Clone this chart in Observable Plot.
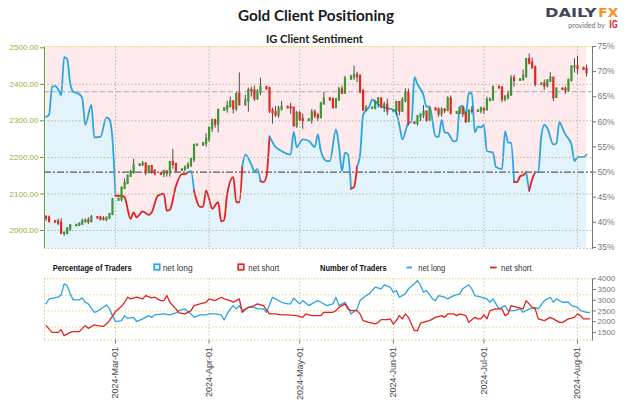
<!DOCTYPE html>
<html><head><meta charset="utf-8">
<script src="https://cdn.jsdelivr.net/npm/d3@7"></script>
<script src="https://cdn.jsdelivr.net/npm/@observablehq/plot@0.6"></script>
<style>
body{margin:0;background:#fff;}
#root{position:relative;width:640px;height:402px;overflow:hidden;background:#fff}
#root svg{position:absolute;left:0}
.price [aria-label="y-axis tick label"]{fill:#93b13c}
.count [aria-label="x-axis tick label"]{fill:#444}
</style></head><body><div id="root"></div>
<script>
// ---------- data ----------
const title = "Gold Client Positioning";
const subtitle = "IG Client Sentiment";
const legendLabels = ["Percentage of Traders", "net long", "net short", "Number of Traders", "net long", "net short"];

const priceTicks = [2000, 2100, 2200, 2300, 2400, 2500];
const pctTicks = [35, 40, 45, 50, 55, 60, 65, 70, 75];
const countTicks = [1500, 2000, 2500, 3000, 3500, 4000];
const monthTicks = ["2024-03-01", "2024-04-01", "2024-05-01", "2024-06-01", "2024-07-01", "2024-08-01"];

// % of clients net long (right axis), [month-day, value]
const sentiment = [["02-07",61.0],["02-08",61.4],["02-09",67.0],["02-10",67.1],["02-11",66.5],["02-12",65.3],["02-13",72.9],["02-14",72.5],["02-15",67.7],["02-16",66.0],["02-18",65.5],["02-19",64.7],["02-20",59.4],["02-22",63.4],["02-23",56.9],["02-25",57.0],["02-27",60.9],["02-28",60.5],["02-29",56.5],["03-01",45.3],["03-03",45.3],["03-04",45.0],["03-06",40.7],["03-07",42.0],["03-08",41.0],["03-10",42.2],["03-12",41.5],["03-13",42.0],["03-15",45.3],["03-17",45.7],["03-18",42.3],["03-19",42.5],["03-21",47.2],["03-23",49.6],["03-24",49.6],["03-25",50.0],["03-26",50.2],["03-27",46.3],["03-29",43.1],["03-30",43.1],["03-31",46.3],["04-01",44.7],["04-02",42.7],["04-04",44.0],["04-05",40.2],["04-06",40.5],["04-07",45.7],["04-09",49.0],["04-10",44.0],["04-11",44.0],["04-12",51.2],["04-13",53.5],["04-15",51.5],["04-16",50.2],["04-17",50.6],["04-18",48.2],["04-19",48.0],["04-20",49.2],["04-21",57.1],["04-23",55.0],["04-25",54.2],["04-28",53.5],["04-29",58.0],["04-30",55.0],["05-02",56.5],["05-04",56.2],["05-06",55.0],["05-07",57.5],["05-08",54.2],["05-10",52.2],["05-11",52.2],["05-13",58.5],["05-14",55.2],["05-15",50.2],["05-16",53.9],["05-17",53.5],["05-18",46.7],["05-19",47.0],["05-20",51.2],["05-21",53.5],["05-22",61.4],["05-24",63.0],["05-25",64.4],["05-28",63.0],["05-30",62.7],["06-01",62.4],["06-02",61.8],["06-03",59.4],["06-04",56.5],["06-06",59.8],["06-07",60.0],["06-08",68.9],["06-09",67.5],["06-11",65.3],["06-12",63.0],["06-13",63.1],["06-15",57.1],["06-16",57.0],["06-17",60.4],["06-18",57.9],["06-19",57.8],["06-21",56.1],["06-22",56.3],["06-23",63.0],["06-24",63.2],["06-25",61.4],["06-26",65.7],["06-27",65.7],["06-28",57.9],["06-29",59.1],["06-30",58.9],["07-01",59.4],["07-02",54.2],["07-04",53.9],["07-05",51.0],["07-07",50.6],["07-08",58.1],["07-09",55.9],["07-10",55.8],["07-11",48.0],["07-12",48.0],["07-13",49.2],["07-14",49.4],["07-15",50.0],["07-16",46.3],["07-17",48.6],["07-18",50.0],["07-19",50.0],["07-20",57.1],["07-21",59.4],["07-22",58.8],["07-24",55.5],["07-25",55.7],["07-26",60.0],["07-27",58.8],["07-28",57.5],["07-30",55.5],["07-31",52.2],["08-01",53.0],["08-03",53.0],["08-04",53.5]];

// number of traders net long
const longCount = [["02-07",2830],["02-08",3064],["02-11",3140],["02-12",3250],["02-13",3766],["02-14",3686],["02-15",3298],["02-16",3017],["02-18",3017],["02-19",3110],["02-20",2905],["02-21",2830],["02-23",2437],["02-24",2484],["02-26",2670],["02-27",2783],["02-28",2596],["02-29",2282],["03-01",2002],["03-03",2048],["03-04",2282],["03-05",2156],["03-07",2205],["03-08",2002],["03-10",2128],["03-12",2282],["03-13",2203],["03-14",2315],["03-17",2362],["03-19",2315],["03-21",2409],["03-22",2516],["03-24",2596],["03-26",2362],["03-27",2203],["03-29",2315],["03-31",2315],["04-01",2362],["04-03",2362],["04-05",2315],["04-06",2081],["04-07",2362],["04-08",2596],["04-09",2750],["04-10",2596],["04-11",2750],["04-12",2516],["04-14",2670],["04-16",2670],["04-17",2596],["04-19",2596],["04-20",2437],["04-22",3140],["04-23",3064],["04-25",2905],["04-27",2830],["04-28",2830],["04-29",3092],["05-01",2830],["05-02",2984],["05-04",2750],["05-05",2830],["05-07",2984],["05-08",2905],["05-10",2750],["05-12",2830],["05-13",3140],["05-14",2750],["05-16",2905],["05-17",2670],["05-18",2362],["05-20",2596],["05-21",2984],["05-23",3218],["05-24",3298],["05-26",3607],["05-28",3532],["05-29",3719],["05-31",3607],["06-01",3373],["06-02",3452],["06-03",3140],["06-05",3298],["06-06",3532],["06-08",3766],["06-09",3920],["06-10",3700],["06-11",3373],["06-12",3452],["06-14",3060],["06-15",2984],["06-16",3218],["06-18",3140],["06-19",3064],["06-21",3218],["06-23",3298],["06-24",3532],["06-26",3719],["06-27",3532],["06-28",3218],["06-30",3140],["07-02",3064],["07-03",2905],["07-04",3064],["07-06",2596],["07-08",2750],["07-09",2516],["07-11",2516],["07-13",2596],["07-14",2437],["07-16",2596],["07-18",2670],["07-19",2596],["07-21",2984],["07-23",3140],["07-24",2905],["07-25",3064],["07-27",2905],["07-29",2905],["07-30",2750],["08-01",2670],["08-02",2516],["08-04",2437],["08-05",2437]];

// number of traders net short
const shortCount = [["02-07",1814],["02-09",1501],["02-11",1501],["02-12",1627],["02-13",1346],["02-15",1501],["02-16",1534],["02-18",1534],["02-20",1814],["02-21",1690],["02-23",1847],["02-24",1814],["02-26",1782],["02-27",1893],["02-28",2048],["03-01",2470],["03-02",2596],["03-03",2718],["03-04",2905],["03-05",3140],["03-06",3064],["03-08",3140],["03-10",3064],["03-11",3218],["03-13",3110],["03-14",3140],["03-16",2984],["03-17",2984],["03-18",3218],["03-19",2905],["03-21",2596],["03-22",2409],["03-24",2362],["03-26",2516],["03-27",2750],["03-29",2830],["03-31",2905],["04-01",3064],["04-03",2984],["04-05",3140],["04-06",3064],["04-08",2984],["04-09",2905],["04-10",2984],["04-11",3064],["04-12",2437],["04-14",2670],["04-16",2750],["04-17",2830],["04-19",2750],["04-21",2362],["04-23",2362],["04-25",2315],["04-27",2315],["04-30",2282],["05-02",2203],["05-03",2362],["05-05",2282],["05-06",2282],["05-08",2282],["05-09",2437],["05-11",2437],["05-12",2437],["05-13",2516],["05-14",2670],["05-16",2830],["05-17",2596],["05-18",2516],["05-20",2516],["05-21",2362],["05-22",2048],["05-24",1970],["05-26",1893],["05-27",1970],["05-28",2095],["05-30",2095],["05-31",2128],["06-01",1893],["06-02",2048],["06-03",2282],["06-04",2128],["06-05",2362],["06-06",2203],["06-08",1580],["06-09",1580],["06-10",1930],["06-12",2010],["06-13",2048],["06-15",2203],["06-17",2282],["06-18",2203],["06-19",2362],["06-21",2362],["06-22",2282],["06-23",2362],["06-25",2282],["06-26",1970],["06-28",2203],["06-29",2128],["06-30",2128],["07-01",2315],["07-02",2128],["07-03",2516],["07-05",2596],["07-07",2596],["07-08",2282],["07-09",2362],["07-10",2750],["07-12",2670],["07-14",2596],["07-15",2984],["07-17",2670],["07-18",2596],["07-19",2128],["07-21",2048],["07-23",2203],["07-24",2128],["07-26",1970],["07-27",1970],["07-29",2128],["07-31",2203],["08-01",2362],["08-02",2282],["08-03",2128],["08-05",2128]];

// daily candles [open, high, low, close], one per chart session slot (no Friday slots)
const ohlc = [
[2035,2041,2025,2034],[2034,2040,2022,2024],
[2024,2027,2021,2023],[2023,2031,2013,2020],[2020,2032,1990,1992],[1992,1996,1984,1992],[1992,2008,1988,2004],[2004,2016,1997,2013],
[2013,2016,2011,2014],[2014,2021,2011,2017],[2017,2031,2015,2024],[2024,2032,2020,2026],[2026,2035,2016,2024],[2024,2041,2023,2035],
[2035,2037,2032,2034],[2034,2039,2026,2031],[2031,2038,2026,2030],[2030,2036,2024,2034],[2034,2045,2030,2044],[2044,2088,2040,2083],
[2083,2089,2080,2085],[2085,2120,2078,2115],[2115,2141,2113,2128],[2128,2152,2126,2148],[2148,2165,2146,2159],[2159,2195,2154,2178],
[2178,2182,2175,2180],[2180,2189,2175,2182],[2182,2184,2150,2158],[2158,2176,2156,2175],[2175,2176,2154,2162],[2162,2166,2150,2155],
[2155,2158,2152,2154],[2154,2165,2145,2160],[2160,2163,2146,2157],[2157,2187,2146,2186],[2186,2222,2168,2181],[2181,2183,2157,2165],
[2165,2168,2163,2166],[2166,2177,2163,2171],[2171,2186,2168,2178],[2178,2195,2172,2194],[2194,2235,2186,2233],[2233,2236,2230,2234],
[2234,2240,2230,2238],[2238,2265,2228,2250],[2250,2280,2241,2280],[2280,2305,2268,2300],[2300,2305,2280,2291],[2291,2330,2267,2329],
[2329,2336,2326,2333],[2333,2354,2321,2339],[2339,2365,2336,2352],[2352,2354,2319,2333],[2333,2378,2325,2372],[2372,2431,2353,2344],
[2344,2370,2340,2355],[2355,2390,2324,2383],[2383,2392,2365,2382],[2382,2395,2353,2361],[2361,2385,2356,2379],[2379,2417,2369,2391],
[2391,2395,2385,2388],[2388,2392,2320,2327],[2327,2335,2291,2322],[2322,2339,2309,2316],[2316,2340,2307,2332],[2332,2353,2327,2337],
[2337,2340,2333,2336],[2336,2348,2318,2335],[2335,2336,2285,2286],[2286,2326,2280,2320],[2320,2326,2298,2304],[2304,2319,2277,2301],
[2301,2305,2298,2303],[2303,2331,2291,2322],[2322,2330,2306,2314],[2314,2320,2298,2309],[2309,2351,2306,2346],[2346,2378,2345,2360],
[2360,2362,2355,2357],[2357,2364,2333,2336],[2336,2361,2334,2358],[2358,2392,2353,2385],[2385,2395,2372,2376],[2376,2422,2373,2414],
[2414,2425,2412,2420],[2420,2450,2411,2425],[2425,2433,2405,2421],[2421,2427,2374,2380],[2380,2386,2326,2330],[2330,2342,2325,2334],
[2334,2337,2331,2335],[2335,2355,2330,2350],[2350,2364,2335,2360],[2360,2362,2334,2338],[2338,2351,2323,2343],[2343,2360,2314,2327],
[2327,2330,2324,2328],[2328,2354,2314,2350],[2350,2353,2314,2327],[2327,2364,2323,2355],[2355,2388,2350,2375],[2375,2387,2286,2294],
[2294,2297,2290,2293],[2293,2315,2286,2311],[2311,2319,2298,2316],[2316,2342,2307,2324],[2324,2327,2296,2302],[2302,2335,2301,2333],
[2333,2335,2328,2330],[2330,2335,2310,2319],[2319,2336,2310,2329],[2329,2334,2320,2328],[2328,2366,2327,2360],[2360,2368,2316,2321],
[2321,2325,2318,2323],[2323,2335,2317,2334],[2334,2335,2309,2320],[2320,2324,2293,2298],[2298,2330,2298,2327],[2327,2339,2318,2326],
[2326,2329,2323,2327],[2327,2338,2319,2332],[2332,2335,2318,2330],[2330,2365,2328,2356],[2356,2363,2352,2357],[2357,2392,2355,2392],
[2392,2395,2388,2390],[2390,2393,2350,2359],[2359,2370,2352,2364],[2364,2381,2357,2371],[2371,2424,2367,2415],[2415,2425,2393,2411],
[2411,2416,2408,2413],[2413,2439,2409,2422],[2422,2469,2416,2468],[2468,2483,2453,2458],[2458,2472,2444,2445],[2445,2450,2393,2400],
[2400,2404,2396,2401],[2401,2412,2384,2396],[2396,2413,2390,2409],[2409,2432,2405,2417],[2417,2419,2353,2364],[2364,2390,2364,2387],
[2387,2390,2383,2386],[2386,2393,2373,2384],[2384,2414,2378,2411],[2411,2451,2406,2447],[2447,2470,2431,2448],[2448,2477,2427,2443],
[2443,2447,2438,2441],[2441,2453,2420,2432]
];

// ---------- build ----------
const md = s => new Date(`2024-${s}T00:00:00Z`);
const sent = sentiment.map(([d, v]) => ({date: md(d), v}));
const longs = longCount.map(([d, v]) => ({date: md(d), v}));
const shorts = shortCount.map(([d, v]) => ({date: md(d), v}));
const slots = d3.utcDay.range(new Date("2024-02-07T00:00:00Z"), new Date("2024-08-05T00:00:00Z")).filter(d => d.getUTCDay() !== 5);
const candles = ohlc.slice(0, slots.length).map((r, i) => ({date: slots[i], o: r[0], h: r[1], l: r[2], c: r[3]}));
const months = monthTicks.map(s => new Date(s + "T00:00:00Z"));

const xDomain = [new Date("2024-02-06T11:41:00Z"), new Date("2024-08-05T23:12:00Z")];
const PCT = [34.8, 75];
const PRICE = [1950.7, 2503.6];
const COUNT = [1145, 4000];
const BLUE = "#2ba4e0", RED = "#e3211f";
const axisFont = '"Liberation Sans", Arial, sans-serif';
const root = document.getElementById("root");

const mainSize = {width: 640, height: 250, marginLeft: 44, marginRight: 48, marginTop: 46, marginBottom: 2};

// bottom layer: sentiment (right % axis)
const pctPlot = Plot.plot({
  ...mainSize,
  style: {background: "transparent", fontFamily: axisFont, fontSize: "8.5px", color: "#777", overflow: "visible"},
  x: {type: "utc", domain: xDomain, axis: null},
  y: {domain: PCT, axis: "right", ticks: pctTicks, tickFormat: d => d + "%", tickSize: 3, tickPadding: 2, line: true, label: null},
  color: {domain: ["long", "short"], range: [BLUE, RED]},
  marks: [
    Plot.areaY(sent, {x: "date", y1: PCT[0], y2: "v", fill: "#e3f3fb", curve: "monotone-x"}),
    Plot.areaY(sent, {x: "date", y1: "v", y2: PCT[1], fill: "#feeaed", curve: "monotone-x"}),
    Plot.ruleY([66], {stroke: "#aaaaaa", strokeWidth: 1, strokeDasharray: "5,3"}),
    Plot.ruleY([50], {stroke: "#5a5a5a", strokeWidth: 1.3, strokeDasharray: "7,2,2,2"}),
    Plot.line(sent, {x: "date", y: "v", z: null, stroke: d => d.v >= 50 ? "long" : "short", strokeWidth: 1.8, curve: "monotone-x"})
  ]
});
pctPlot.style.top = "0px";
root.appendChild(pctPlot);

// top layer: price candles (left axis)
const pricePlot = Plot.plot({
  ...mainSize,
  className: "price",
  style: {background: "transparent", fontFamily: axisFont, fontSize: "8px", color: "#5f9b30", overflow: "visible"},
  x: {type: "utc", domain: xDomain, axis: null},
  y: {domain: PRICE, axis: "left", ticks: priceTicks, tickFormat: d3.format(".2f"), tickSize: 4, tickPadding: 2, line: true, label: null},
  color: {domain: ["up", "down"], range: ["#3d9834", "#dd2a22"]},
  marks: [
    Plot.ruleY(priceTicks.filter(t => t < 2500), {stroke: "#b7bb93", strokeWidth: 1, strokeDasharray: "1.5,2"}),
    Plot.ruleX(months, {stroke: "#b9b9b9", strokeWidth: 1, strokeDasharray: "1.5,2"}),
    Plot.ruleY([PRICE[1]], {stroke: "#e2e04c", strokeWidth: 1, strokeDasharray: "1.5,1.5"}),
    Plot.ruleY([PRICE[0]], {stroke: "#c8c88e", strokeWidth: 1, strokeDasharray: "1.5,2"}),
    Plot.ruleX(candles, {x: "date", y1: "l", y2: "h", stroke: "#3a3a3a", strokeWidth: 0.9}),
    Plot.ruleX(candles, {x: "date", y1: "o", y2: "c", stroke: d => d.c >= d.o ? "up" : "down", strokeWidth: 2.2, strokeLinecap: "square"})
  ]
});
pricePlot.style.top = "0px";
root.appendChild(pricePlot);

// lower panel: number of traders
const countPlot = Plot.plot({
  width: 640, height: 132, marginLeft: 44, marginRight: 48, marginTop: 8.3, marginBottom: 62.5,
  className: "count",
  style: {background: "transparent", fontFamily: axisFont, fontSize: "8px", color: "#777", overflow: "visible"},
  x: {type: "utc", domain: xDomain, ticks: months, tickFormat: d3.utcFormat("%Y-%b-%d"), tickRotate: -90, tickSize: 4, tickPadding: 3, label: null},
  y: {domain: COUNT, axis: "right", ticks: countTicks, tickFormat: d3.format("d"), tickSize: 3, tickPadding: 2, line: true, label: null},
  marks: [
    Plot.ruleY([3250, 2500, 1750], {stroke: "#d9d77c", strokeWidth: 1, strokeDasharray: "1.5,2"}),
    Plot.ruleX(months, {stroke: "#c9c9a0", strokeWidth: 1, strokeDasharray: "1.5,2"}),
    Plot.ruleY([COUNT[1]], {stroke: "#e2e04c", strokeWidth: 1, strokeDasharray: "1.5,1.5"}),
    Plot.ruleY([COUNT[0]], {stroke: "#d0cf88", strokeWidth: 1, strokeDasharray: "1.5,2"}),
    Plot.ruleX([xDomain[0]], {stroke: "#d0cf88", strokeWidth: 1, strokeDasharray: "1.5,2"}),
    Plot.line(longs, {x: "date", y: "v", stroke: BLUE, strokeWidth: 1.3}),
    Plot.line(shorts, {x: "date", y: "v", stroke: RED, strokeWidth: 1.3})
  ]
});
countPlot.style.top = "270px";
root.appendChild(countPlot);
countPlot.querySelectorAll('[aria-label="x-axis tick label"] text').forEach(t => t.style.fontSize = "9px");

// ---------- titles, logo and legend (overlay) ----------
const ov = d3.select(root).append("svg").attr("width", 640).attr("height", 402).style("top", "0px").style("pointer-events", "none");
function txt(s, x, y, len, size, weight, fill, family) {
  return ov.append("text").attr("x", x).attr("y", y).attr("textLength", len).attr("lengthAdjust", "spacingAndGlyphs")
    .attr("font-family", family || "Lato, sans-serif").attr("font-size", size).attr("font-weight", weight).attr("fill", fill).text(s);
}
txt(title, 238, 20.5, 156, 15.5, 700, "#1b1b1b");
txt(subtitle, 266, 43, 97, 11.5, 700, "#1b1b1b");
txt("DAILY", 545, 16.8, 51.5, 11.8, 600, "#3f4756", '"DejaVu Sans", sans-serif');
txt("FX", 598.3, 16.8, 20, 11.8, 700, "#f3901f", '"DejaVu Sans", sans-serif');
txt("provided by", 568.3, 27.6, 36.5, 6.8, 400, "#6d6d6d");
txt("IG", 609.3, 28.4, 8.3, 10.5, 900, "#e4232b");

const lf = '"Liberation Sans", Arial, sans-serif';
txt(legendLabels[0], 52.7, 270.6, 79, 8.6, 700, "#111", lf);
ov.append("rect").attr("x", 154.2).attr("y", 264.2).attr("width", 5.6).attr("height", 5.6).attr("fill", "#dff1fb").attr("stroke", BLUE).attr("stroke-width", 1.6);
txt(legendLabels[1], 162.7, 270.6, 30, 8.6, 400, "#333", lf);
ov.append("rect").attr("x", 238.2).attr("y", 264.2).attr("width", 5.6).attr("height", 5.6).attr("fill", "#fde4e6").attr("stroke", RED).attr("stroke-width", 1.6);
txt(legendLabels[2], 248.3, 270.6, 31, 8.6, 400, "#333", lf);
txt(legendLabels[3], 320, 270.6, 66.7, 8.6, 700, "#111", lf);
ov.append("line").attr("x1", 406.5).attr("x2", 412).attr("y1", 267.5).attr("y2", 267.5).attr("stroke", BLUE).attr("stroke-width", 1.8);
txt(legendLabels[4], 418.3, 270.6, 27, 8.6, 400, "#333", lf);
ov.append("line").attr("x1", 490).attr("x2", 496.7).attr("y1", 267.5).attr("y2", 267.5).attr("stroke", RED).attr("stroke-width", 1.8);
txt(legendLabels[5], 501, 270.6, 30.7, 8.6, 400, "#333", lf);
</script></body></html>
